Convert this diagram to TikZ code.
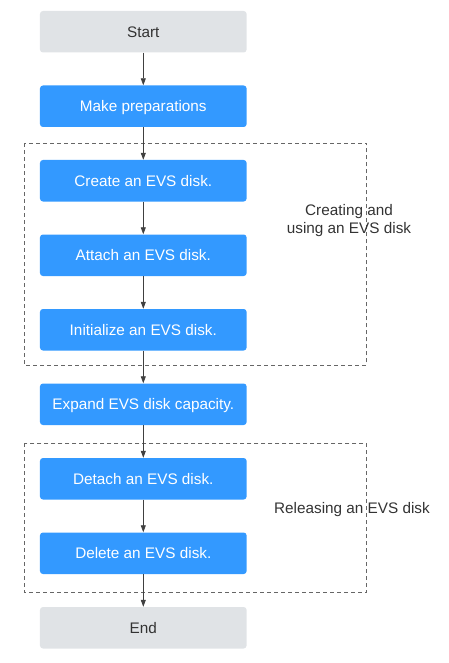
\documentclass[tikz,border=0pt]{standalone}
\usepackage{fontspec}
\setmainfont{Liberation Sans}
\usetikzlibrary{arrows.meta}
\definecolor{boxblue}{RGB}{51,153,255}
\definecolor{boxgray}{RGB}{224,227,230}
\definecolor{txtdark}{RGB}{51,51,51}
\definecolor{linedark}{RGB}{64,64,64}
\definecolor{dashgray}{RGB}{102,102,102}
\begin{document}
\begin{tikzpicture}[x=1pt,y=-1pt,
  stepbox/.style={draw=none,fill=boxblue,rounded corners=3pt,minimum width=206.7pt,minimum height=41.5pt,inner sep=0pt,text height=11pt,text depth=0pt,text=white,font=\fontsize{15.3}{18}\selectfont},
  termbox/.style={stepbox,fill=boxgray,text=txtdark},
  flow/.style={draw=linedark,line width=0.8pt,-{Triangle[length=7pt,width=5pt]}},
  group/.style={draw=dashgray,line width=0.6pt,dash pattern=on 4pt off 3pt},
  grouplabel/.style={align=center,text=txtdark,font=\fontsize{15.3}{17.5}\selectfont,inner sep=0pt}]
\useasboundingbox (0,0) rectangle (449,663);
\node[termbox] (start) at (143.3,31.75) {Start};
\node[stepbox] (prep) at (143.3,106.25) {Make preparations};
\node[stepbox] (create) at (143.3,180.75) {Create an EVS disk.};
\node[stepbox] (attach) at (143.3,255.25) {Attach an EVS disk.};
\node[stepbox] (init) at (143.3,329.75) {Initialize an EVS disk.};
\node[stepbox] (expand) at (143.3,404.25) {Expand EVS disk capacity.};
\node[stepbox] (detach) at (143.3,478.75) {Detach an EVS disk.};
\node[stepbox] (delete) at (143.3,553.25) {Delete an EVS disk.};
\node[termbox] (end) at (143.3,627.75) {End};
\draw[group] (24,143.3) rectangle (366.7,365);
\draw[group] (24,443.3) rectangle (366.7,592.3);
\node[grouplabel] (lab1) at (349,220.5) {Creating and\\using an EVS disk};
\node[grouplabel] (lab2) at (352,509.5) {Releasing an EVS disk};
\draw[flow] (start) -- (prep);
\draw[flow] (prep) -- (create);
\draw[flow] (create) -- (attach);
\draw[flow] (attach) -- (init);
\draw[flow] (init) -- (expand);
\draw[flow] (expand) -- (detach);
\draw[flow] (detach) -- (delete);
\draw[flow] (delete) -- (end);
\end{tikzpicture}
\end{document}
